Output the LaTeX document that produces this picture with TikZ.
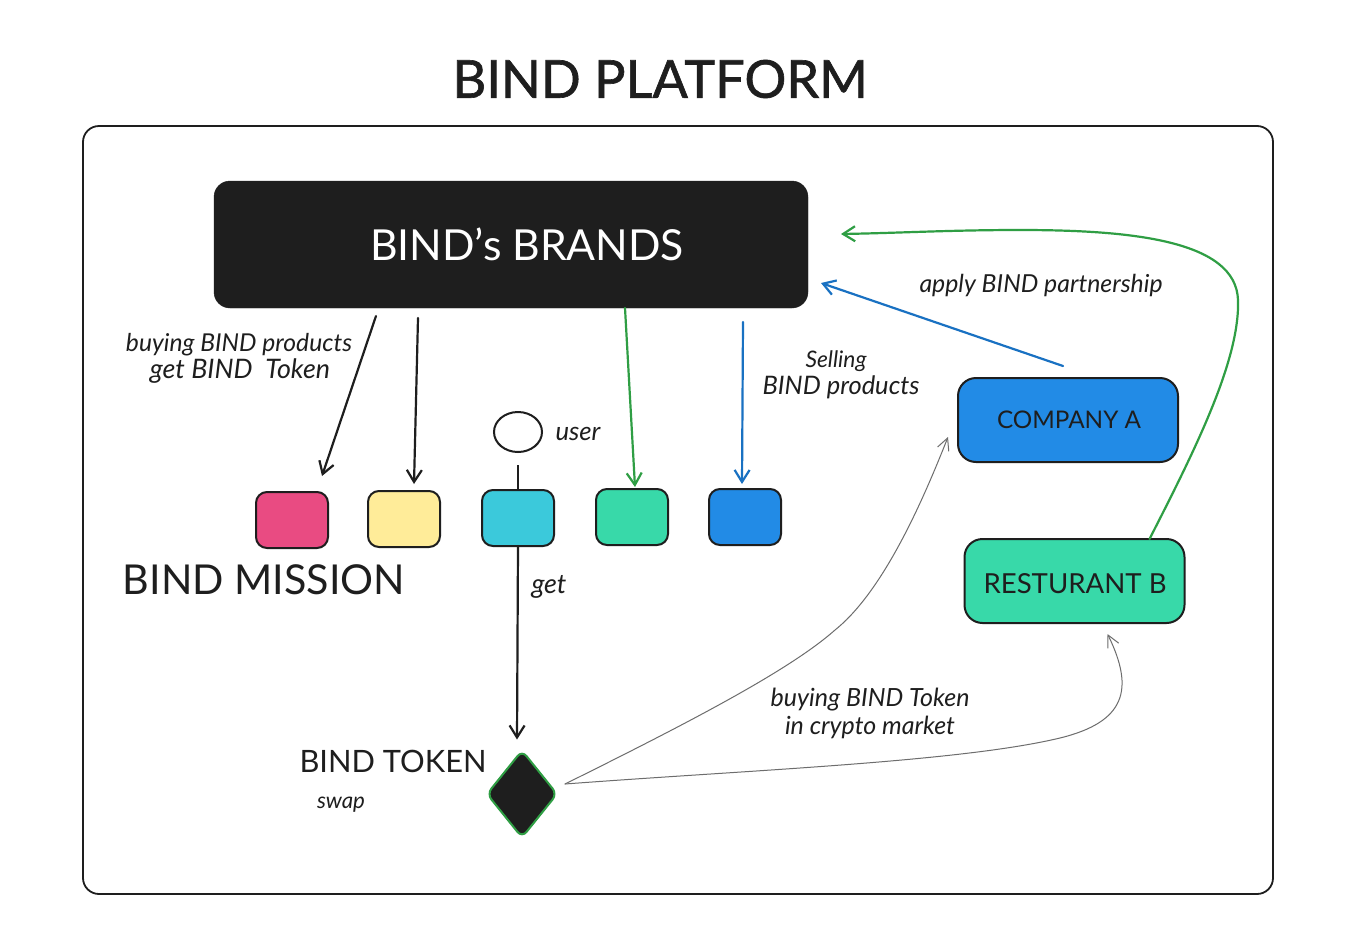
\documentclass[tikz,border=0pt]{standalone}
\usepackage{fontspec}
\usepackage{graphicx}
\setmainfont{Lato}
\usetikzlibrary{arrows.meta,shapes.geometric,calc}
\definecolor{ink}{HTML}{1E1E1E}
\definecolor{cpink}{HTML}{E94B82}
\definecolor{cyellow}{HTML}{FFEC99}
\definecolor{ccyan}{HTML}{3BC9DB}
\definecolor{cgreen}{HTML}{38D9A9}
\definecolor{cblue}{HTML}{228BE6}
\definecolor{agreen}{HTML}{2F9E44}
\definecolor{ablue}{HTML}{1971C2}
\newcommand{\fitw}[2]{\resizebox{#1pt}{!}{\fontsize{20pt}{24pt}\selectfont #2}}
\newcommand{\fitwi}[2]{\resizebox{#1pt}{!}{\fontsize{20pt}{24pt}\itshape #2}}
\tikzset{
  x=1pt,y=-1pt,
  txt/.style={inner sep=0pt,outer sep=0pt,text=ink,anchor=center},
  swatch/.style={draw=ink,line width=2pt,rounded corners=11pt,minimum width=72pt,minimum height=56pt,inner sep=0pt,outer sep=0pt,anchor=north west},
  bigbox/.style={draw=ink,line width=2pt,rounded corners=18pt,minimum width=220pt,minimum height=84pt,inner sep=0pt,outer sep=0pt},
  arr/.style={-{Straight Barb[length=12pt,width=15pt,line width=2.2pt]},line width=2.2pt,draw=ink,line cap=round},
  thin arr/.style={-{Straight Barb[length=12pt,width=12pt,line width=1pt]},line width=1pt,draw=ink!65,line cap=round},
}
\begin{document}
\begin{tikzpicture}
\useasboundingbox (0,0) rectangle (1358,943);
\fill[white] (0,0) rectangle (1358,943);
% frame
\node[draw=ink,line width=1.8pt,rounded corners=16pt,minimum width=1190pt,minimum height=768pt,inner sep=0pt,outer sep=0pt] (frame) at (678,510) {};
% title
\node[txt] (title) at (660,79) {\fitw{415}{\addfontfeature{FakeBold=1.2}BIND PLATFORM}};
% brands
\node[fill=ink,draw=ink,rounded corners=16pt,minimum width=594pt,minimum height=127pt,inner sep=0pt,outer sep=0pt] (brands) at (511,244.5) {};
\node[txt] (brandstxt) at (527,244) {\textcolor{white}{\fitw{314}{BIND's BRANDS}}};
% swatches
\node[swatch,fill=cpink] (pink) at (256,492) {};
\node[swatch,fill=cyellow] (yellow) at (368,491) {};
\node[swatch,fill=ccyan] (cyan) at (482,490) {};
\node[swatch,fill=cgreen] (green) at (596,489) {};
\node[swatch,fill=cblue] (blue) at (709,489) {};
% user
\node[draw=ink,line width=2pt,ellipse,minimum width=48pt,minimum height=40pt,inner sep=0pt,outer sep=0pt] (user) at (518,432) {};
% right boxes
\node[bigbox,fill=cblue] (company) at (1068,420) {};
\node[txt] (companytxt) at (1069,420) {\fitw{144}{COMPANY A}};
\node[bigbox,fill=cgreen] (rest) at (1074.5,581) {};
\node[txt] (resttxt) at (1075,584) {\fitw{183}{RESTURANT B}};
% diamond
\node[diamond,fill=ink,draw=agreen,line width=2pt,rounded corners=7pt,minimum width=70pt,minimum height=87pt,inner sep=0pt,outer sep=0pt] (token) at (522,794) {};
% labels
\node[txt] (mission) at (264,580) {\fitw{282}{BIND MISSION}};
\node[txt] (tokentxt) at (393,761) {\fitw{187}{BIND TOKEN}};
\node[txt] (swap) at (341,805) {\fitwi{48}{swap}};
\node[txt] (usertxt) at (578,434) {\fitwi{45}{user}};
\node[txt] (gettxt) at (549,587) {\fitwi{35}{get}};
\node[txt] (b1) at (239,345) {\fitwi{226}{buying BIND products}};
\node[txt] (b2) at (240,371) {\fitwi{180}{get BIND\ \ Token}};
\node[txt] (s1) at (836,361) {\fitwi{61}{Selling}};
\node[txt] (s2) at (841,387) {\fitwi{157}{BIND products}};
\node[txt] (apply) at (1041,285) {\fitwi{243}{apply BIND partnership}};
\node[txt] (c1) at (870,700) {\fitwi{199}{buying BIND Token}};
\node[txt] (c2) at (870,727) {\fitwi{170}{in crypto market}};
% connectors
\draw[arr] ([xshift=162pt,yshift=-8pt]brands.south west) -- ([xshift=66pt,yshift=16pt]pink.north west);
\draw[arr] ([xshift=204pt,yshift=-10pt]brands.south west) -- ([xshift=46pt,yshift=7pt]yellow.north west);
\draw[line width=2.2pt,draw=ink] ([yshift=-13pt]user.south) -- (cyan.north);
\draw[arr] (cyan.south) -- ([xshift=-5pt,yshift=11pt]token.north);
\draw[arr,draw=agreen] ([xshift=411pt]brands.south west) -- ([xshift=39pt,yshift=2pt]green.north west);
\draw[arr,draw=ablue] ([xshift=529pt,yshift=-14pt]brands.south west) -- ([xshift=33pt,yshift=5pt]blue.north west);
\draw[arr,draw=ablue] ([xshift=105pt,yshift=12pt]company.north west) -- ([xshift=13pt,yshift=25pt]brands.south east);
\draw[arr,draw=agreen] ([xshift=185pt]rest.north west) .. controls (1195,450) and (1240,360) .. (1238,300) .. controls (1236,240) and (1130,230) .. (1020,230) .. controls (950,230) and (900,233) .. ([xshift=33pt,yshift=10.5pt]brands.east);
\draw[thin arr] ([xshift=8pt,yshift=10pt]token.east) .. controls (690,722) and (790,670) .. (835,630) .. controls (885,590) and (925,495) .. ([xshift=-10pt,yshift=-17pt]company.west);
\draw[thin arr] ([xshift=8pt,yshift=10pt]token.east) .. controls (750,770) and (960,762) .. (1060,738) .. controls (1125,722) and (1135,690) .. ([xshift=143pt,yshift=-11pt]rest.south west);
\end{tikzpicture}
\end{document}
